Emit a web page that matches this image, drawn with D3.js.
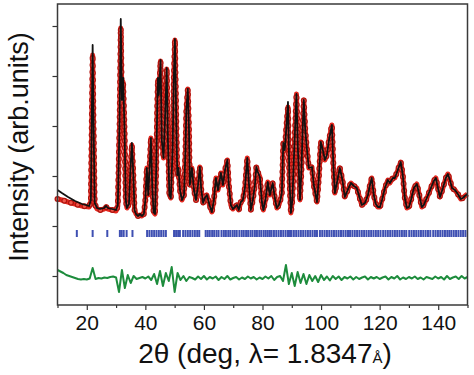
<!DOCTYPE html>
<html>
<head>
<meta charset="utf-8">
<script src="https://cdn.jsdelivr.net/npm/d3@7"></script>
<style>
  html, body { margin: 0; padding: 0; background: #fff; }
  svg { display: block; font-family: Arial, "Liberation Sans", sans-serif; }
</style>
</head>
<body>
<svg id="chart" width="474" height="375"></svg>
<script>
// ----- Data -----
const twoTheta = [
  10.0, 11.5, 13.6, 16.0, 18.4, 20.8, 21.4, 21.7, 22.0, 22.3,
  22.7, 23.5, 24.5, 25.9, 26.6, 27.2, 28.6, 30.0, 30.6, 31.2,
  31.6, 32.0, 32.4, 32.9, 33.3, 33.7, 34.4, 34.9, 35.4, 35.9,
  36.3, 36.8, 37.5, 38.2, 38.8, 39.5, 40.0, 40.5, 41.0, 41.4,
  41.9, 42.4, 42.8, 43.3, 43.7, 44.1, 44.3, 44.6, 45.2, 45.6,
  46.2, 46.7, 47.3, 47.7, 48.2, 48.7, 49.3, 49.7, 50.1, 50.5,
  50.9, 51.3, 51.8, 52.5, 53.2, 53.7, 54.0, 54.5, 54.9, 55.2,
  55.9, 56.6, 57.3, 58.0, 58.6, 59.1, 59.7, 60.3, 61.0, 61.9,
  62.7, 63.4, 64.1, 64.8, 65.8, 66.5, 67.2, 68.0, 68.5, 69.2,
  69.9, 70.6, 71.3, 71.9, 72.6, 73.3, 74.0, 74.8, 75.4, 76.0,
  76.7, 77.4, 77.9, 78.4, 79.1, 79.8, 80.3, 81.0, 81.8, 82.5,
  83.5, 84.2, 84.9, 85.6, 86.1, 86.6, 87.1, 87.6, 88.2, 88.7,
  89.2, 89.7, 90.2, 90.7, 91.6, 92.1, 92.8, 93.3, 93.7, 94.1,
  94.6, 95.2, 95.8, 96.9, 97.5, 98.6, 99.2, 99.9, 100.6, 101.3,
  102.0, 102.7, 103.7, 104.2, 104.7, 105.6, 106.4, 107.3, 108.1, 109.1,
  110.2, 111.2, 112.2, 113.2, 113.9, 115.0, 116.0, 116.7, 117.3, 118.0,
  118.7, 119.4, 120.1, 120.8, 121.8, 122.8, 123.5, 124.5, 125.2, 126.2,
  127.2, 127.9, 128.6, 129.3, 130.0, 130.7, 131.7, 132.7, 133.4, 134.4,
  135.1, 135.8, 136.4, 137.5, 138.5, 139.2, 139.9, 140.6, 141.6, 142.6,
  143.3, 144.0, 144.7, 145.7, 146.7, 147.7, 148.4, 149.1, 150.0
];

// observed (black line)
const yObs = [
  1720, 1660, 1580, 1500, 1440, 1400, 1520, 3120, 4620, 3120,
  1460, 1360, 1340, 1360, 1400, 1360, 1340, 1320, 1420, 3120,
  5140, 3520, 3960, 2920, 1520, 1360, 1440, 2120, 2660, 2020,
  1320, 1240, 1200, 1240, 1200, 1240, 1520, 2160, 1620, 2120,
  2760, 1720, 1280, 1240, 2120, 3520, 3960, 3620, 4320, 2720,
  2360, 3120, 4160, 2720, 1620, 1560, 2520, 3920, 4740, 3320,
  2020, 2160, 1720, 1520, 1620, 2520, 3320, 3740, 2920, 1820,
  2160, 1720, 1520, 1820, 2180, 1720, 1460, 1560, 1620, 1420,
  1280, 1520, 1960, 1720, 2060, 1820, 2120, 2320, 1820, 1420,
  1340, 1380, 1420, 1320, 1480, 1520, 1760, 2360, 1820, 1320,
  1520, 1820, 2180, 2080, 1980, 1480, 1320, 1520, 1880, 1620,
  1860, 1560, 1360, 1420, 1520, 1660, 2660, 2520, 3020, 3480,
  1920, 1260, 1520, 2320, 3640, 2520, 1520, 2120, 2920, 3520,
  2920, 2520, 2160, 2180, 1820, 1480, 1920, 2680, 2520, 2320,
  2420, 2720, 3020, 2220, 1660, 1920, 2160, 1920, 1580, 1720,
  1860, 1800, 1760, 1560, 1420, 1460, 1620, 1820, 1960, 1620,
  1440, 1380, 1380, 1520, 1760, 1920, 1860, 1960, 1960, 2120,
  2280, 2020, 1560, 1360, 1380, 1520, 1760, 1840, 1660, 1380,
  1420, 1520, 1600, 1760, 1900, 1960, 1760, 1580, 1760, 1960,
  2040, 1920, 1760, 1720, 1640, 1540, 1560, 1600, 1640
];

// calculated (red band with circles)
const yCalc = [
  1540, 1520, 1480, 1440, 1400, 1380, 1500, 3040, 4420, 3040,
  1440, 1340, 1320, 1340, 1380, 1340, 1320, 1300, 1400, 3040,
  4960, 3520, 3880, 2920, 1520, 1360, 1440, 2120, 2620, 2020,
  1320, 1240, 1200, 1220, 1200, 1240, 1520, 2160, 1620, 2120,
  2760, 1720, 1280, 1240, 2120, 3520, 3920, 3620, 4300, 2720,
  2360, 3120, 4140, 2720, 1620, 1560, 2520, 3920, 4720, 3320,
  2020, 2160, 1720, 1520, 1620, 2520, 3320, 3740, 2920, 1820,
  2160, 1720, 1520, 1820, 2180, 1720, 1460, 1560, 1620, 1420,
  1280, 1520, 1960, 1720, 2060, 1820, 2120, 2320, 1820, 1420,
  1340, 1380, 1420, 1320, 1480, 1520, 1760, 2360, 1820, 1320,
  1520, 1820, 2180, 2080, 1980, 1480, 1320, 1520, 1880, 1620,
  1860, 1560, 1360, 1420, 1520, 1660, 2660, 2520, 3020, 3380,
  1920, 1260, 1520, 2320, 3640, 2520, 1520, 2120, 2920, 3520,
  2920, 2520, 2160, 2180, 1820, 1480, 1920, 2680, 2520, 2320,
  2420, 2720, 3020, 2220, 1660, 1920, 2160, 1920, 1580, 1720,
  1860, 1800, 1760, 1560, 1420, 1460, 1620, 1820, 1960, 1620,
  1440, 1380, 1380, 1520, 1760, 1920, 1860, 1960, 1960, 2120,
  2280, 2020, 1560, 1360, 1380, 1520, 1760, 1840, 1660, 1380,
  1420, 1520, 1600, 1760, 1900, 1960, 1760, 1580, 1760, 1960,
  2040, 1920, 1760, 1720, 1640, 1540, 1560, 1600, 1640
];

// difference curve (obs - calc), sampled every 1 deg from 10 to 150
const diffTheta = d3.range(10, 151, 1);
const yDiff = [
  160, 130, 100, 60, 40, 20, 0, -20, -30, -20,
  -30, -10, 200, -20, 0, -10, 10, 0, 20, 30,
  10, -280, 160, -200, 60, -100, 40, -20, 0, 20,
  -10, 30, -40, 80, -120, 140, -160, 100, -60, 220,
  -280, 100, -40, 40, -60, 20, 0, -30, 30, -20,
  40, -30, 20, -10, 30, -40, 20, -20, 40, -30,
  0, 20, -30, 10, -20, 30, -10, 20, -30, 10,
  -20, 30, -10, 40, -40, 20, 40, -60, 260, -120,
  100, -160, 120, -100, 80, -120, 60, -60, 40, -80,
  60, -40, 30, -50, 40, -20, 30, -40, 20, -10,
  30, -30, 20, -20, 10, 30, -30, 20, -10, 20,
  -20, 10, 30, -30, 20, -10, 40, -30, 10, -20,
  20, -10, 30, -20, 10, -30, 20, 0, -20, 30,
  -10, 20, -30, 40, -20, 10, 30, -20, 40, -10,
  20
];
const diffOffset = -40;

// Bragg reflection positions (blue bars)
const braggPos = [
  16.6, 22.0, 27.0, 31.3, 31.9, 32.6, 33.6, 35.6,
  40.6, 41.4, 42.2, 43.0, 43.8, 44.6, 45.4, 46.2, 47.0,
  49.8, 50.5, 51.2, 51.8,
  52.9, 53.7, 54.5, 55.3, 56.1, 56.9, 57.7, 58.4,
  60.6, 61.3, 62.0, 62.8, 63.5, 64.3, 65.0,
  66.0, 66.8, 67.5, 68.3, 69.0, 69.8, 70.5, 71.2,
  72.1, 72.9, 73.6, 74.4, 75.1, 75.9, 76.6, 77.4, 78.1, 78.9, 79.6, 80.4, 81.1, 81.8, 82.5,
  83.1, 83.9, 84.7, 85.5, 86.3, 87.1, 87.9, 88.7, 89.4,
  89.9, 90.7, 91.5, 92.3, 93.1, 93.9, 94.7, 95.5, 96.3, 97.1, 97.9, 98.6,
  99.6, 100.4, 101.2, 102.0, 102.8, 103.6, 104.4, 105.2, 106.0, 106.8, 107.6, 108.4, 109.2,
  109.9, 110.7, 111.5, 112.3, 113.1, 113.9, 114.7, 115.5, 116.3, 117.1, 117.9, 118.7, 119.5, 120.3,
  121.2, 122.0, 122.8, 123.6, 124.4, 125.2, 126.0, 126.8, 127.6, 128.4, 129.1,
  130.1, 130.9, 131.7, 132.5, 133.3, 134.1, 134.9, 135.7, 136.5, 137.3,
  138.3, 139.1, 139.9, 140.7, 141.5, 142.3, 143.1, 143.8,
  144.5, 145.3, 146.1, 146.9, 147.7, 148.5, 149.3
];
const braggLevel = [780, 920];

const xTicks = [20, 40, 60, 80, 100, 120, 140];
const xMinorTicks = [10, 30, 50, 70, 90, 110, 130, 150];
const yTicks = [0, 1000, 2000, 3000, 4000, 5000];

// ----- Scales -----
const svg = d3.select("#chart");
const plot = { left: 57.5, right: 467.5, top: 4, bottom: 305 };

const x = d3.scaleLinear().domain([10, 150]).range([plot.left, plot.right]);
const y = d3.scaleLinear().domain([-580, 5440]).range([plot.bottom, plot.top]);

const obsPts = twoTheta.map((t, i) => [t, yObs[i]]);
const calcPts = twoTheta.map((t, i) => [t, yCalc[i]]);
const diffPts = diffTheta.map((t, i) => [t, yDiff[i] + diffOffset]);

const line = d3.line().x(d => x(d[0])).y(d => y(d[1]));

// ----- Difference curve -----
svg.append("path")
  .attr("d", line(diffPts))
  .attr("fill", "none")
  .attr("stroke", "#1d8c3c")
  .attr("stroke-width", 2)
  .attr("stroke-linejoin", "round");

// ----- Bragg bars -----
svg.append("g")
  .selectAll("line")
  .data(braggPos)
  .enter()
  .append("line")
  .attr("x1", d => x(d)).attr("x2", d => x(d))
  .attr("y1", y(braggLevel[0])).attr("y2", y(braggLevel[1]))
  .attr("stroke", "#3f50b2")
  .attr("stroke-width", 2);

// ----- Calculated: thick red band + ring markers -----
svg.append("path")
  .attr("d", line(calcPts))
  .attr("fill", "none")
  .attr("stroke", "#e5281f")
  .attr("stroke-width", 5)
  .attr("stroke-linejoin", "round");

svg.append("path")
  .attr("d", line(calcPts))
  .attr("fill", "none")
  .attr("stroke", "#b0140e")
  .attr("stroke-width", 6)
  .attr("stroke-linecap", "round")
  .attr("stroke-dasharray", "0 7");

svg.append("path")
  .attr("d", line(calcPts))
  .attr("fill", "none")
  .attr("stroke", "#f0564b")
  .attr("stroke-width", 3.5)
  .attr("stroke-linecap", "round")
  .attr("stroke-dasharray", "0 7");

// ----- Observed: black line -----
svg.append("path")
  .attr("d", line(obsPts))
  .attr("fill", "none")
  .attr("stroke", "#111")
  .attr("stroke-width", 1.8)
  .attr("stroke-linejoin", "round");

// ----- Axes -----
const xAxis = svg.append("g")
  .attr("transform", `translate(0,${plot.bottom})`)
  .call(d3.axisBottom(x).tickValues(xTicks).tickSize(5).tickPadding(5).tickFormat(d3.format("d")));
svg.append("g")
  .attr("transform", `translate(0,${plot.bottom})`)
  .call(d3.axisBottom(x).tickValues(xMinorTicks).tickSize(3).tickFormat(""));
svg.append("g")
  .attr("transform", `translate(${plot.left},0)`)
  .call(d3.axisLeft(y).tickValues(yTicks).tickSize(5).tickFormat(""));

svg.selectAll(".domain").remove();
svg.selectAll(".tick line").attr("stroke", "#333").attr("stroke-width", 1.2);
xAxis.selectAll("text")
  .attr("font-size", 21)
  .attr("font-family", "Arial, 'Liberation Sans', sans-serif")
  .attr("fill", "#111");

// frame
svg.append("rect")
  .attr("x", plot.left).attr("y", plot.top)
  .attr("width", plot.right - plot.left).attr("height", plot.bottom - plot.top)
  .attr("fill", "none")
  .attr("stroke", "#3a3a3a")
  .attr("stroke-width", 1.5);

// ----- Labels -----
const xLabel = svg.append("text")
  .attr("x", 265).attr("y", 363)
  .attr("text-anchor", "middle")
  .attr("font-size", 28)
  .attr("fill", "#111");
xLabel.append("tspan").text("2θ (deg, λ= 1.8347");
xLabel.append("tspan").attr("font-size", 15).text("Å");
xLabel.append("tspan").text(")");

svg.append("text")
  .attr("transform", "translate(28,147) rotate(-90)")
  .attr("text-anchor", "middle")
  .attr("font-size", 27)
  .attr("fill", "#111")
  .text("Intensity (arb.units)");
</script>
</body>
</html>
